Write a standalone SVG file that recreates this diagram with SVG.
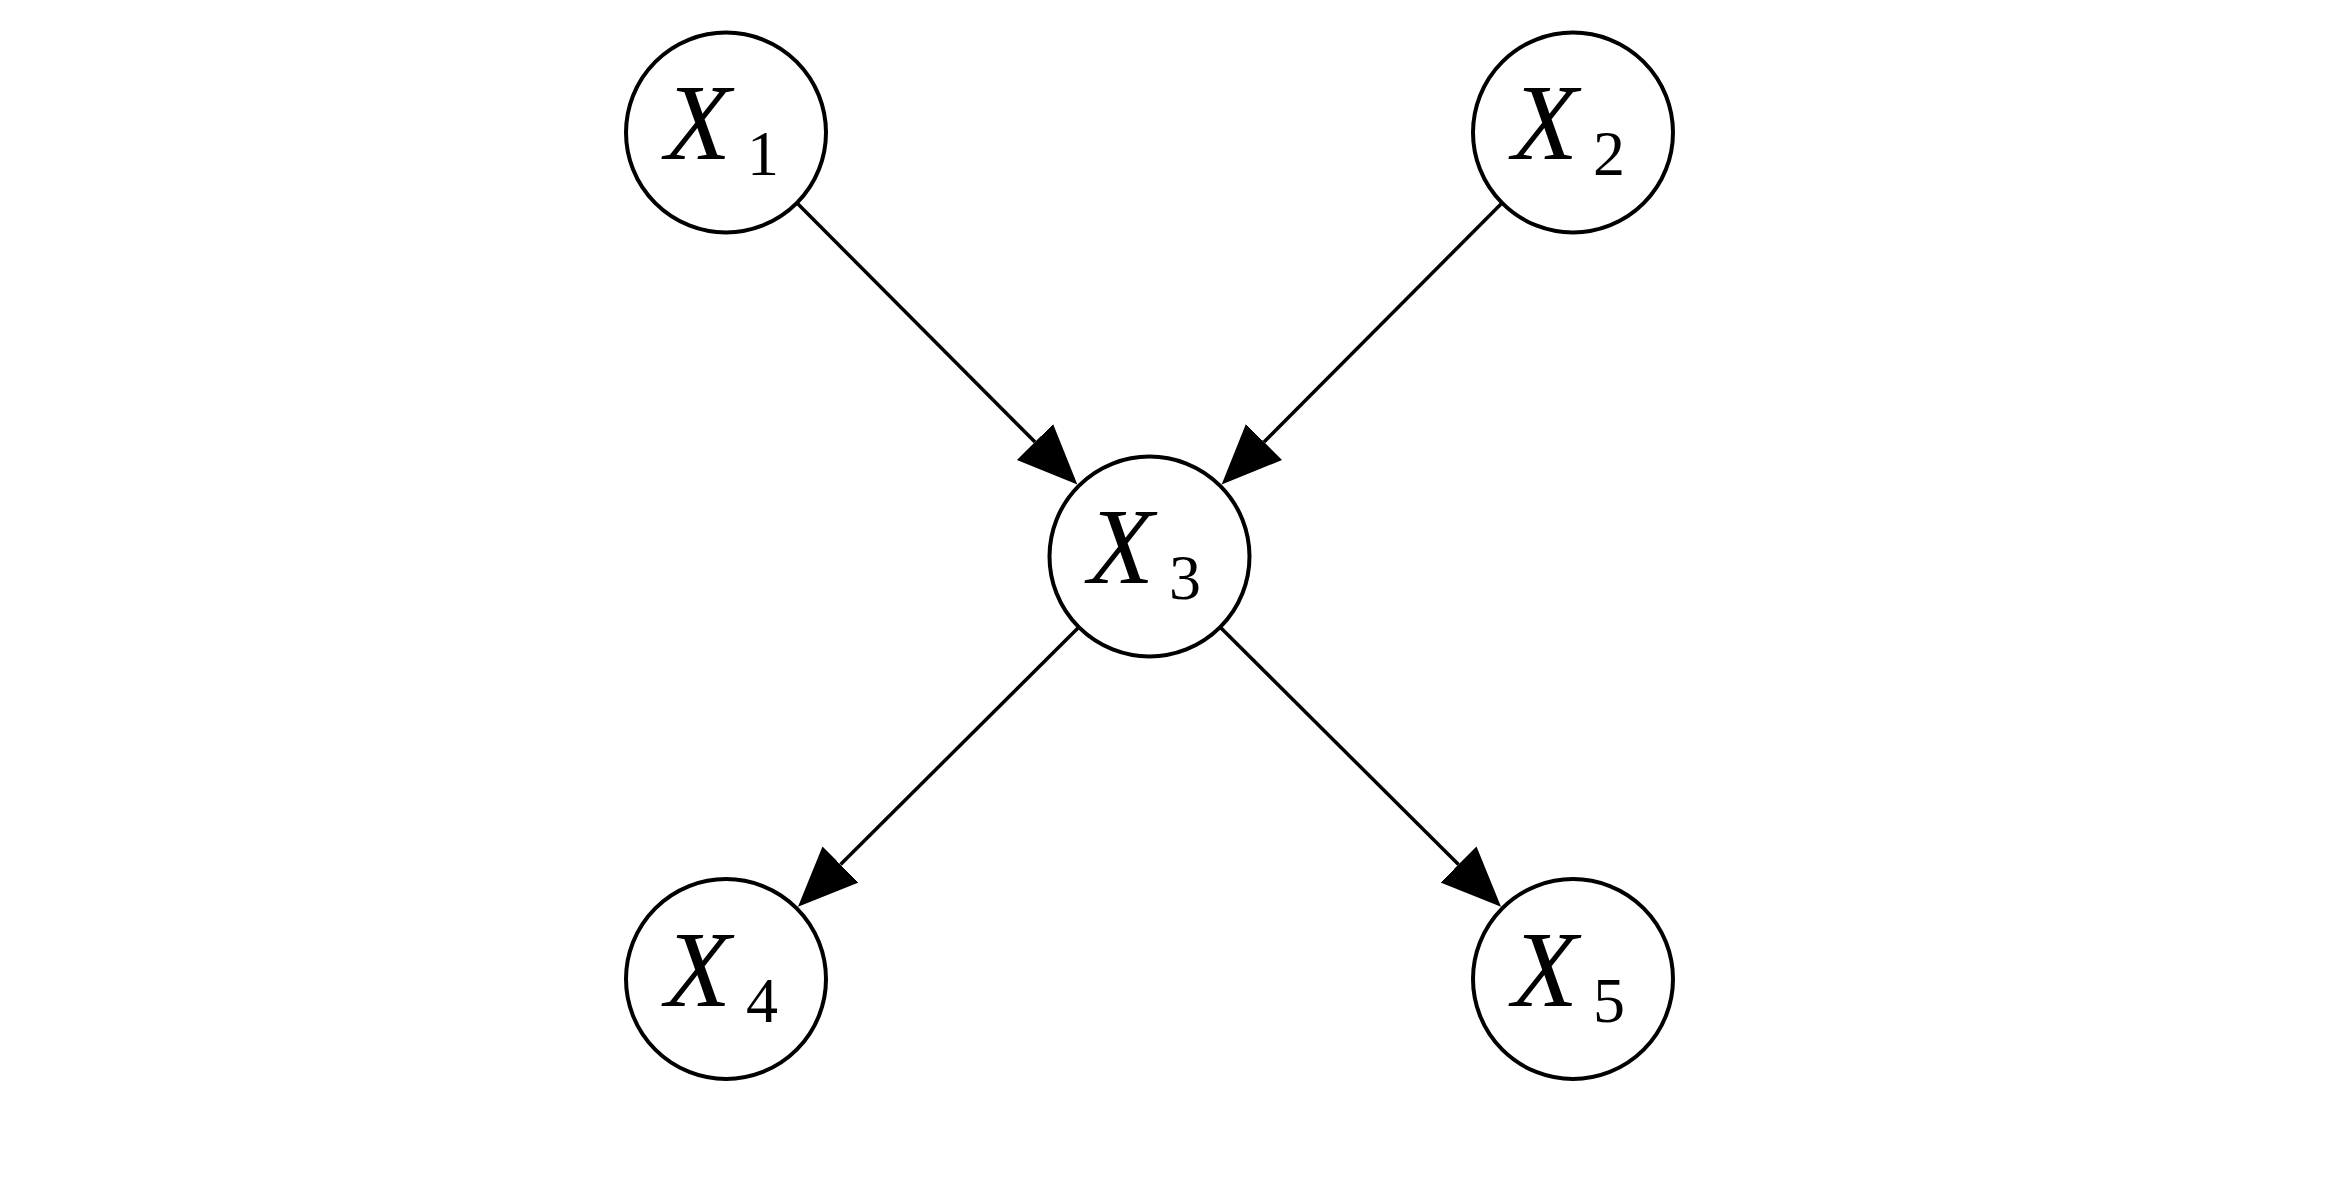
<svg xmlns="http://www.w3.org/2000/svg" width="2328" height="1188" viewBox="0 0 2328 1188">
<style>
.node{fill:#fff;stroke:#000;stroke-width:4}
.v{font-family:"Liberation Serif",serif;font-style:italic;font-size:108px;fill:#000}
.s{font-family:"Liberation Serif",serif;font-size:64px;fill:#000}
.edge{stroke:#000;stroke-width:3.5;fill:none;marker-end:url(#ah)}
</style>
<defs>
<marker id="ah" markerUnits="userSpaceOnUse" markerWidth="62" markerHeight="54" refX="0" refY="26" orient="auto" viewBox="0 0 62 54">
<path d="M0,0.5 L60,26 L0,51.5 z" fill="#000"/>
</marker>
</defs>
<rect width="2328" height="1188" fill="#fff"/>
<g id="connectors">
<line class="edge" x1="797" y1="203" x2="1035" y2="442"/>
<line class="edge" x1="1502" y1="203" x2="1264" y2="442"/>
<line class="edge" x1="1079" y1="627" x2="840.5" y2="864.5"/>
<line class="edge" x1="1220" y1="627" x2="1458.5" y2="864.5"/>
</g>
<g id="X1">
<circle class="node" cx="726" cy="132.5" r="100"/>
<text class="v" x="665" y="159">X</text><text class="s" x="747" y="175">1</text>
</g>
<g id="X2">
<circle class="node" cx="1573" cy="132.5" r="100"/>
<text class="v" x="1512" y="159">X</text><text class="s" x="1593" y="175">2</text>
</g>
<g id="X3">
<circle class="node" cx="1149.5" cy="556.5" r="100"/>
<text class="v" x="1088" y="583">X</text><text class="s" x="1169" y="599">3</text>
</g>
<g id="X4">
<circle class="node" cx="726" cy="979" r="100"/>
<text class="v" x="665" y="1005.5">X</text><text class="s" x="746" y="1021.5">4</text>
</g>
<g id="X5">
<circle class="node" cx="1573" cy="979" r="100"/>
<text class="v" x="1512" y="1005.5">X</text><text class="s" x="1593" y="1021.5">5</text>
</g>
</svg>
